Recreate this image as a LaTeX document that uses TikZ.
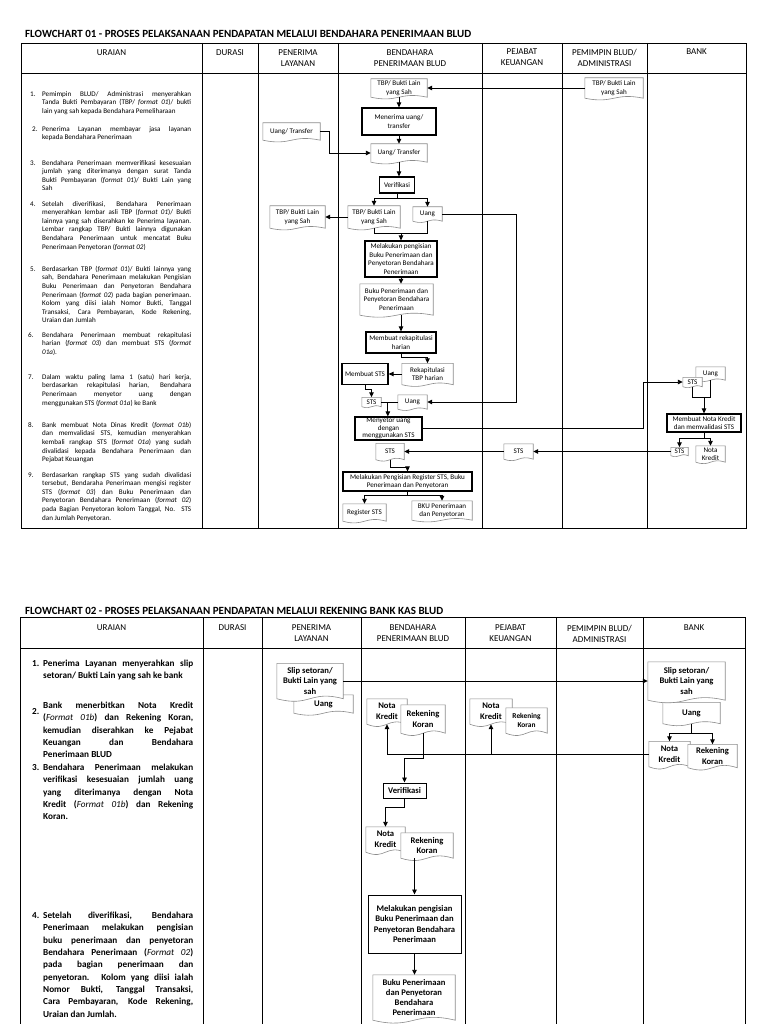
\documentclass[tikz,border=0pt]{standalone}
\usepackage{fontspec}
\setmainfont{Carlito}
\usetikzlibrary{positioning, arrows.meta, calc, backgrounds}

\newcommand\fstitle{\fontsize{11}{13}\selectfont\bfseries}
\newcommand\fshead{\fontsize{9}{11}\selectfont}
\newcommand\fsitem{\fontsize{7.1}{8.6}\selectfont}
\newcommand\fsbox{\fontsize{7.1}{8.4}\selectfont}
\newcommand\fsitemb{\fontsize{9.2}{12.3}\selectfont\bfseries}
\newcommand\fsboxb{\fontsize{8.6}{10.6}\selectfont\bfseries}
% document symbol: box with a wave along the bottom
\newcommand\docwave[2][5]{%
  \filldraw[docline] (#2.south west) -- (#2.north west) -- (#2.north east) -- (#2.south east)
    .. controls ($(#2.south)+(0,-#1)$) and ($(#2.south)+(0,#1)$) .. (#2.south west) -- cycle;}

\begin{document}
\begin{tikzpicture}[x=1pt, y=-1pt,
    tbl/.style={line width=0.9pt},
    proc/.style={draw, line width=1.2pt, fill=white, inner sep=0pt, align=center, font=\fsbox},
    procb/.style={draw, line width=1pt, fill=white, inner sep=0pt, align=center, font=\fsboxb},
    doc/.style={inner sep=0pt, align=center, font=\fsbox},
    docb/.style={inner sep=0pt, align=center, font=\fsboxb},
    docline/.style={draw=black!45, fill=white, line width=0.6pt},
    arr/.style={-{Triangle[length=5pt,width=4.5pt]}, line width=0.9pt},
    lnk/.style={line width=0.9pt},
    head/.style={font=\fshead, align=center, inner sep=0pt},
    item/.style={font=\fsitem, text width=149pt, align=justify, anchor=north west, inner sep=0pt},
    itemb/.style={font=\fsitemb, text width=150pt, align=justify, anchor=north west, inner sep=0pt}
  ]
  \useasboundingbox (0,0) rectangle (768,1024);

  % ---------------- FLOWCHART 01 ----------------
  \node[anchor=west, font=\fstitle, inner sep=0pt] (title1) at (25,34)
    {FLOWCHART 01 - PROSES PELAKSANAAN PENDAPATAN MELALUI BENDAHARA PENERIMAAN BLUD};
  % table
  \draw[tbl] (21,43) rectangle (746,528);
  \draw[tbl] (21,73) -- (746,73);
  \foreach \x in {202,258,338,482,562,647}
    \draw[tbl] (\x,43) -- (\x,528);
  % column heads
  \node[head] (hUr1) at (111.5,53) {URAIAN};
  \node[head] (hDu1) at (230,53) {DURASI};
  \node[head] (hPl1) at (298,58.5) {PENERIMA\\LAYANAN};
  \node[head] (hBd1) at (410,58.5) {BENDAHARA\\PENERIMAAN BLUD};
  \node[head] (hPk1) at (522,57.5) {PEJABAT\\KEUANGAN};
  \node[head] (hPb1) at (604.5,57.5) {PEMIMPIN BLUD/\\ADMINISTRASI};
  \node[head] (hBk1) at (696.5,52) {BANK};

  % uraian
  \node[item] (u1) at (42,91) {\llap{\makebox[12pt][l]{1.}}Pemimpin BLUD/ Administrasi menyerahkan\linebreak
    Tanda Bukti Pembayaran (TBP/ \textit{format 01})/ bukti\linebreak lain yang sah kepada Bendahara Pemeliharaan};
  \node[item] (u2) at (42,126) {\llap{\makebox[10pt][l]{2.}}Penerima Layanan membayar jasa layanan\linebreak
    kepada Bendahara Penerimaan};
  \node[item] (u3) at (42,160) {\llap{\makebox[12pt][l]{3.}}Bendahara Penerimaan memverifikasi kesesuaian\linebreak
    jumlah yang diterimanya dengan surat Tanda\linebreak Bukti Pembayaran (\textit{format 01})/ Bukti Lain yang\linebreak Sah};
  \node[item] (u4) at (42,201) {\llap{\makebox[12pt][l]{4.}}Setelah diverifikasi, Bendahara Penerimaan\linebreak
    menyerahkan lembar asli TBP (\textit{format 01})/ Bukti\linebreak lainnya yang sah diserahkan ke Penerima layanan.\linebreak
    Lembar rangkap TBP/ Bukti lainnya digunakan\linebreak Bendahara Penerimaan untuk mencatat Buku\linebreak
    Penerimaan Penyetoran (\textit{format 02})};
  \node[item] (u5) at (42,266) {\llap{\makebox[12pt][l]{5.}}Berdasarkan TBP (\textit{format 01})/ Bukti lainnya yang\linebreak
    sah, Bendahara Penerimaan melakukan Pengisian\linebreak Buku Penerimaan dan Penyetoran Bendahara\linebreak
    Penerimaan (\textit{format 02}) pada bagian penerimaan.\linebreak Kolom yang diisi ialah Nomor Bukti, Tanggal\linebreak
    Transaksi, Cara Pembayaran, Kode Rekening,\linebreak Uraian dan Jumlah};
  \node[item] (u6) at (42,332) {\llap{\makebox[14pt][l]{6.}}Bendahara Penerimaan membuat rekapitulasi\linebreak
    harian (\textit{format 03}) dan membuat STS (\textit{format}\linebreak \textit{01a}).};
  \node[item] (u7) at (42,374) {\llap{\makebox[14pt][l]{7.}}Dalam waktu paling lama 1 (satu) hari kerja,\linebreak
    berdasarkan rekapitulasi harian, Bendahara\linebreak Penerimaan menyetor uang dengan\linebreak
    menggunakan STS (\textit{format 01a}) ke Bank};
  \node[item] (u8) at (42,422) {\llap{\makebox[14pt][l]{8.}}Bank membuat Nota Dinas Kredit (\textit{format 01b})\linebreak
    dan memvalidasi STS, kemudian menyerahkan\linebreak kembali rangkap STS (\textit{format 01a}) yang sudah\linebreak
    divalidasi kepada Bendahara Penerimaan dan\linebreak Pejabat Keuangan};
  \node[item] (u9) at (42,472) {\llap{\makebox[14pt][l]{9.}}Berdasarkan rangkap STS yang sudah divalidasi\linebreak
    tersebut, Bendaraha Penerimaan mengisi register\linebreak STS (\textit{format 03}) dan Buku Penerimaan dan\linebreak
    Penyetoran Bendahara Penerimaan (\textit{format 02})\linebreak pada Bagian Penyetoran kolom Tanggal, No. STS\linebreak
    dan Jumlah Penyetoran.};

  % flow shapes
  \node[doc, minimum width=58, minimum height=20] (tbpPim) at (614,88) {TBP/ Bukti Lain\\yang Sah};
  \node[doc, minimum width=56, minimum height=18] (tbpIn) at (399,88) {TBP/ Bukti Lain\\yang Sah};
  \node[proc, minimum width=74, minimum height=27] (terima) at (399,121.5) {Menerima uang/\\transfer};
  \node[doc, minimum width=56, minimum height=18] (uangTr) at (399,153) {Uang/ Transfer};
  \node[doc, minimum width=57, minimum height=17] (uangLy) at (291.5,131.5) {Uang/ Transfer};
  \node[proc, minimum width=35, minimum height=16] (verif) at (397,185) {Verifikasi};
  \node[doc, minimum width=52, minimum height=22] (tbpOut) at (374,217) {TBP/ Bukti Lain\\yang Sah};
  \node[doc, minimum width=29, minimum height=14] (uangA) at (427.5,214) {Uang};
  \node[doc, minimum width=55, minimum height=22] (tbpLy) at (297.5,217) {TBP/ Bukti Lain\\yang Sah};
  \node[proc, minimum width=72, minimum height=36] (isi) at (401,259)
    {Melakukan pengisian\\Buku Penerimaan dan\\Penyetoran Bendahara\\Penerimaan};
  \node[doc, minimum width=73, minimum height=31] (buku) at (396.5,299.5)
    {Buku Penerimaan dan\\Penyetoran Bendahara\\Penerimaan};
  \node[proc, minimum width=70, minimum height=21] (rekap) at (401,342.5) {Membuat rekapitulasi\\harian};
  \node[doc, minimum width=51, minimum height=21] (rekapDoc) at (427.5,374) {Rekapitulasi\\TBP harian};
  \node[proc, minimum width=46, minimum height=21] (sts) at (365,374) {Membuat STS};
  \node[doc, minimum width=19, minimum height=9] (stsA) at (371.5,402) {STS};
  \node[doc, minimum width=29, minimum height=14] (uangB) at (412.5,402) {Uang};
  \node[proc, minimum width=67, minimum height=23, font=\fontsize{7.1}{7.3}\selectfont] (setor) at (388.5,428.5)
    {Menyetor uang\\dengan\\menggunakan STS};
  \node[doc, minimum width=28, minimum height=16] (stsB) at (390,451.5) {STS};
  \node[doc, minimum width=29, minimum height=15] (stsPj) at (518.5,451.5) {STS};
  \node[proc, minimum width=129, minimum height=19] (regBox) at (407.5,481.5)
    {Melakukan Pengisian Register STS, Buku\\Penerimaan dan Penyetoran};
  \node[doc, minimum width=43, minimum height=17] (regDoc) at (364.5,512.5) {Register STS};
  \node[doc, minimum width=60, minimum height=19] (bkuDoc) at (442,510.5) {BKU Penerimaan\\dan Penyetoran};
  \node[doc, minimum width=29, minimum height=13] (uangBk) at (710.5,373.5) {Uang};
  \node[doc, minimum width=19, minimum height=9] (stsBk1) at (692.5,382) {STS};
  \node[proc, minimum width=74, minimum height=18] (nota) at (704,423) {Membuat Nota Kredit\\dan memvalidasi STS};
  \node[doc, minimum width=17, minimum height=8] (stsBk2) at (679.5,451.5) {STS};
  \node[doc, minimum width=29, minimum height=16] (notaDoc) at (710.5,454) {Nota\\Kredit};

  % connectors
  \draw[arr] (tbpPim.west) -- (tbpIn.east);
  \draw[arr] (tbpIn.south) -- (terima.north);
  \draw[arr] (terima.south) -- (uangTr.north);
  \draw[arr] (uangLy.east) -- ++(9,0) |- (uangTr.west);
  \draw[arr] (uangTr.south) -- (uangTr.south |- verif.north);
  \coordinate (vj) at ($(verif.south)+(0,5)$);
  \draw[lnk] (verif.south) -- (vj);
  \draw[arr] (vj) -| (tbpOut.north);
  \draw[arr] (vj) -| (uangA.north);
  \draw[arr] (tbpOut.west) -- (tbpLy.east);
  \coordinate (mj) at ($(isi.north)+(0,-7)$);
  \draw[lnk] (tbpOut.south) |- (mj);
  \draw[lnk] (uangA.south) |- (mj);
  \draw[arr] (mj) -- (isi.north);
  \draw[arr] (uangA.east) -- ++(74,0) |- (uangB.east);
  \draw[arr] (isi.south) -- (isi.south |- buku.north);
  \draw[arr] (rekap.north |- buku.south) -- (rekap.north);
  \draw[arr] (rekap.south) -- ++(0,4) -| (rekapDoc.north);
  \draw[arr] (rekapDoc.west) -- (sts.east);
  \draw[arr] (sts.south) -- ++(0,4) -| (stsA.north);
  \coordinate (sj) at ($(stsA.east)!0.4!(uangB.west)$);
  \draw[lnk] (stsA.east) -- (uangB.west);
  \draw[arr] (sj) -- (sj |- setor.north);
  \draw[arr] (setor.east) -- ++(220.5,0) |- (stsBk1.west);
  \coordinate (bj) at ($(nota.north)+(0,-16)$);
  \draw[lnk] (stsBk1.south) |- (bj);
  \draw[lnk] (uangBk.south) |- (bj);
  \draw[arr] (bj) -- (nota.north);
  \coordinate (nj) at ($(nota.south)+(0,6)$);
  \draw[lnk] (nota.south) -- (nj);
  \draw[arr] (nj) -| (stsBk2.north);
  \draw[arr] (nj) -| (notaDoc.north);
  \draw[arr] (stsBk2.west) -- (stsPj.east);
  \draw[arr] (stsPj.west) -- (stsB.east);
  \draw[arr] (stsB.south) -- ++(0,8) -| (regBox.north);
  \coordinate (rj) at ($(regBox.south)+(0,4)$);
  \draw[lnk] (regBox.south) -- (rj);
  \draw[arr] (rj) -| (regDoc.north);
  \draw[arr] (rj) -| (bkuDoc.north);

  % ---------------- FLOWCHART 02 ----------------
  \node[anchor=west, font=\fstitle, inner sep=0pt] (title2) at (25,611)
    {FLOWCHART 02 - PROSES PELAKSANAAN PENDAPATAN MELALUI REKENING BANK KAS BLUD};
  % table
  \draw[tbl] (20,617) -- (745,617);
  \draw[tbl] (20,648) -- (745,648);
  \foreach \x in {20,203,262,361,465,556,643,745}
    \draw[tbl] (\x,617) -- (\x,1026);
  % column heads
  \node[head] (hUr2) at (111.5,628) {URAIAN};
  \node[head] (hDu2) at (232.5,628) {DURASI};
  \node[head] (hPl2) at (311.5,633.5) {PENERIMA\\LAYANAN};
  \node[head] (hBd2) at (413,633.5) {BENDAHARA\\PENERIMAAN BLUD};
  \node[head] (hPk2) at (510.5,633.5) {PEJABAT\\KEUANGAN};
  \node[head] (hPb2) at (599.5,633.5) {PEMIMPIN BLUD/\\ADMINISTRASI};
  \node[head] (hBk2) at (694,628) {BANK};

  % uraian
  \node[itemb] (v1) at (43,660) {\llap{\makebox[11pt][l]{1.}}Penerima Layanan menyerahkan slip\linebreak
    setoran/ Bukti Lain yang sah ke bank};
  \node[itemb] (v2) at (43,702) {\llap{\makebox[11pt][l]{\raisebox{-6pt}[0pt][0pt]{2.}}}Bank menerbitkan Nota Kredit\linebreak
    (\textmd{\textit{Format 01b}}) dan Rekening Koran,\linebreak kemudian diserahkan ke Pejabat\linebreak
    Keuangan dan Bendahara\linebreak Penerimaan BLUD};
  \node[itemb] (v3) at (43,764) {\llap{\makebox[11pt][l]{3.}}Bendahara Penerimaan melakukan\linebreak
    verifikasi kesesuaian jumlah uang\linebreak yang diterimanya dengan Nota\linebreak
    Kredit (\textmd{\textit{Format 01b}}) dan Rekening\linebreak Koran.};
  \node[itemb] (v4) at (43,912) {\llap{\makebox[11pt][l]{4.}}Setelah diverifikasi, Bendahara\linebreak
    Penerimaan melakukan pengisian\linebreak buku penerimaan dan penyetoran\linebreak
    Bendahara Penerimaan (\textmd{\textit{Format 02}})\linebreak pada bagian penerimaan dan\linebreak
    penyetoran. Kolom yang diisi ialah\linebreak Nomor Bukti, Tanggal Transaksi,\linebreak
    Cara Pembayaran, Kode Rekening,\linebreak Uraian dan Jumlah.};

  % flow shapes
  \node[docb, minimum width=59, minimum height=18] (uangLy2) at (323.5,704) {Uang};
  \node[docb, minimum width=66, minimum height=35] (slipLy) at (310,681) {Slip setoran/\\Bukti Lain yang\\sah};
  \node[docb, minimum width=57, minimum height=21] (uangBk2) at (691.5,713) {Uang};
  \node[docb, minimum width=77, minimum height=38] (slipBk) at (686.5,681) {Slip setoran/\\Bukti Lain yang\\sah};
  \node[docb, minimum width=41, minimum height=25] (notaBk) at (669.5,754) {Nota\\Kredit};
  \node[docb, minimum width=49, minimum height=23] (rekBk) at (712.5,756) {Rekening\\Koran};
  \node[docb, minimum width=42, minimum height=25] (notaPj) at (491,711.5) {Nota\\Kredit};
  \node[docb, minimum width=41, minimum height=25, font=\fontsize{7.4}{9}\selectfont\bfseries] (rekPj) at (526.5,720.5) {Rekening\\Koran};
  \node[docb, minimum width=40, minimum height=25] (notaBd) at (387,711.5) {Nota\\Kredit};
  \node[docb, minimum width=44, minimum height=28] (rekBd) at (423,719) {Rekening\\Koran};
  \node[procb, minimum width=43, minimum height=15] (verif2) at (404.5,790.5) {Verifikasi};
  \node[docb, minimum width=39, minimum height=25] (notaBd2) at (385.5,839.5) {Nota\\Kredit};
  \node[docb, minimum width=52, minimum height=25] (rekBd2) at (427,845.5) {Rekening\\Koran};
  \node[procb, minimum width=93, minimum height=58] (isi2) at (414.5,924)
    {Melakukan pengisian\\Buku Penerimaan dan\\Penyetoran Bendahara\\Penerimaan};
  \node[docb, minimum width=82, minimum height=45, font=\fontsize{8.6}{10.3}\selectfont\bfseries] (buku2) at (414,997.5)
    {Buku Penerimaan\\dan Penyetoran\\Bendahara\\Penerimaan};

  % connectors
  \draw[arr] (slipLy.east) -- (slipBk.west);
  \coordinate (uj) at ($(uangBk2.south)+(0,10)$);
  \draw[lnk] (uangBk2.south) -- (uj);
  \draw[arr] (uj) -| (notaBk.north);
  \draw[arr] (uj) -| (rekBk.north);
  \draw[arr] (notaBk.west) -| (notaBd.south);
  \draw[arr] (notaBk.west -| notaPj.south) -- (notaPj.south);
  \draw[arr] (rekBd.south) -- ++(0,25) -| (verif2.north);
  \draw[arr] (verif2.south) -- ++(0,9) -| (notaBd2.north);
  \draw[arr] (isi2.north |- rekBd2.south) -- (isi2.north);
  \draw[arr] (isi2.south) -- (isi2.south |- buku2.north);

  % document outlines, behind the texts
  \begin{scope}[on background layer]
    \fill[white] (0,0) rectangle (768,1024);
    \foreach \d/\a in {tbpPim/6, tbpIn/6, uangTr/6, uangLy/6, tbpOut/6, uangA/4.5, tbpLy/6, buku/7,
        rekapDoc/6, stsA/3.5, uangB/4.5, stsB/5, stsPj/5, regDoc/6, bkuDoc/6, uangBk/4.5, stsBk1/3.5,
        stsBk2/3.5, notaDoc/5}
      {\docwave[\a]{\d}}
    \foreach \d/\a in {uangLy2/7, slipLy/9, uangBk2/7, slipBk/9, notaBk/8, rekBk/8, notaPj/8, rekPj/8,
        notaBd/8, rekBd/8, notaBd2/8, rekBd2/8, buku2/10}
      {\docwave[\a]{\d}}
  \end{scope}
\end{tikzpicture}
\end{document}
